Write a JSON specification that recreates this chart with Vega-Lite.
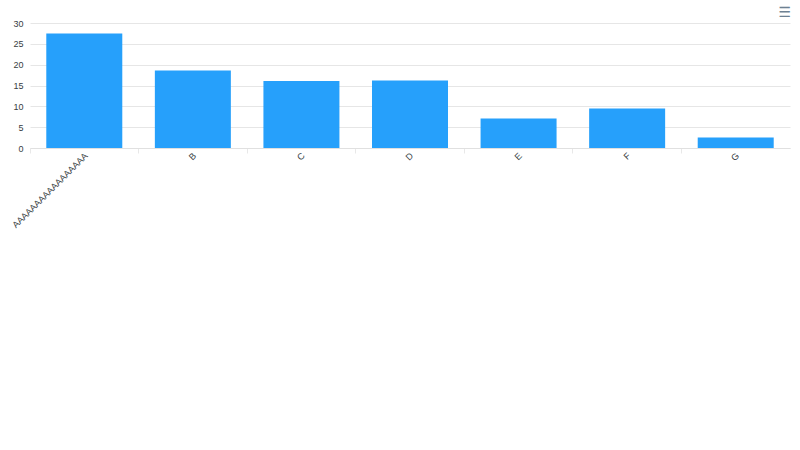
{
  "$schema": "https://vega.github.io/schema/vega-lite/v6.json",
  "autosize": "none",
  "width": 760,
  "height": 125,
  "padding": {"left": 30, "top": 23, "right": 10, "bottom": 302},
  "background": "#ffffff",
  "title": {
    "text": "☰",
    "anchor": "end",
    "font": "DejaVu Sans",
    "fontSize": 14,
    "fontWeight": "normal",
    "color": "#6E8192",
    "offset": 4,
    "dy": 5,
    "dx": 1
  },
  "config": {
    "view": {"stroke": null},
    "font": "Liberation Sans",
    "axis": {"labelFont": "Liberation Sans", "labelColor": "#373d3f", "labelFontSize": 9}
  },
  "data": {
    "values": [
      {"cat": "AAAAAAAAAAAAAAAAA", "value": 27.5},
      {"cat": "B", "value": 18.6},
      {"cat": "C", "value": 16.1},
      {"cat": "D", "value": 16.2},
      {"cat": "E", "value": 7.1},
      {"cat": "F", "value": 9.5},
      {"cat": "G", "value": 2.5}
    ]
  },
  "mark": {"type": "bar", "color": "#26A0FB", "width": {"band": 0.7}},
  "encoding": {
    "x": {
      "field": "cat",
      "type": "nominal",
      "sort": null,
      "title": null,
      "scale": {"paddingInner": 0, "paddingOuter": 0},
      "axis": {
        "labelAngle": -45,
        "labelPadding": -2,
        "labelOffset": -1,
        "domainColor": "#e0e0e0",
        "tickColor": "#e8e8e8",
        "tickSize": 5,
        "bandPosition": 0,
        "grid": false,
        "labelLimit": 200
      }
    },
    "y": {
      "field": "value",
      "type": "quantitative",
      "title": null,
      "scale": {"domain": [0, 30], "nice": false},
      "axis": {
        "values": [0, 5, 10, 15, 20, 25, 30],
        "domain": false,
        "ticks": false,
        "labelPadding": 7,
        "gridColor": "#e6e6e6"
      }
    }
  }
}
